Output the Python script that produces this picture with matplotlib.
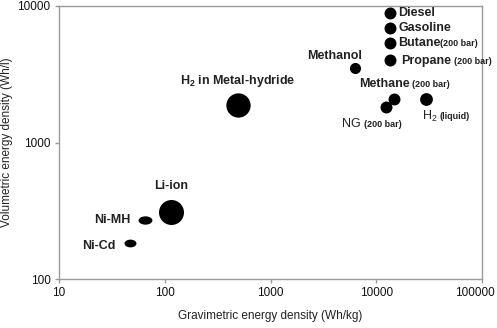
import numpy as np
import matplotlib
matplotlib.use('Agg')
import matplotlib.pyplot as plt
from matplotlib.path import Path
from matplotlib.transforms import ScaledTranslation

plt.rcParams['font.family'] = ['Liberation Sans', 'DejaVu Sans']
plt.rcParams['mathtext.fontset'] = 'custom'
plt.rcParams['mathtext.rm'] = 'Liberation Sans'
plt.rcParams['mathtext.bf'] = 'Liberation Sans:bold'

# Data
names = ["Diesel", "Gasoline", "Butane", "Propane", "Methanol", "Methane",
         "NG", "H2 (liquid)", "H2 in Metal-hydride", "Li-ion", "Ni-MH", "Ni-Cd"]
gravimetric = [13500, 13500, 13500, 13500, 6300, 14700,
               12400, 29500, 490, 115, 65, 47]          # Wh/kg
volumetric = [8900, 6900, 5360, 4020, 3510, 2080,
              1820, 2080, 1880, 310, 270, 184]          # Wh/l

x_ticks = [10, 100, 1000, 10000, 100000]
y_ticks = [100, 1000, 10000]

# marker diameter (pt) and vertical squash of each marker
marker_d = [8.6, 8.6, 8.6, 8.6, 8.0, 8.6, 8.6, 9.2, 17.5, 18.0, 10.0, 8.6]
squash = [1, 1, 1, 1, 1, 1, 1, 1, 1, 1, 0.6, 0.65]

# label text, offset (px), alignment, weight
labels = [
    ("Diesel", (8, 0), "left", "bold"),
    ("Gasoline", (8, 0), "left", "bold"),
    ("Butane", (8, 0), "left", "bold"),
    ("Propane", (11, -1), "left", "bold"),
    ("Methanol", (-20, 12), "center", "bold"),
    ("Methane", (-35, 15), "left", "bold"),
    ("NG", (-44, -17), "left", "normal"),
    ("H$_\\mathrm{2}$", (-4, -17), "left", "normal"),
    ("H$_\\mathbf{2}$ in Metal-hydride", (0, 24), "center", "bold"),
    ("Li-ion", (0, 26), "center", "bold"),
    ("Ni-MH", (-14, 0), "right", "bold"),
    ("Ni-Cd", (-15, -3), "right", "bold"),
]
# small suffix texts: (index of point, text, offset px)
suffixes = [
    (2, "(200 bar)", (50, -1)),
    (3, "(200 bar)", (64, -1)),
    (5, "(200 bar)", (18, 15)),
    (6, "(200 bar)", (-22, -17)),
    (7, "(liquid)", (14, -17)),
]

fig = plt.figure(figsize=(4.97, 3.28), dpi=100)
ax = fig.add_axes([59 / 497, 1 - 279 / 328, 423 / 497, 273 / 328])

circle = Path.unit_circle()
for i in range(len(names)):
    verts = circle.vertices * np.array([1.0, squash[i]])
    mk = Path(verts, circle.codes)
    ax.scatter(gravimetric[i], volumetric[i], s=marker_d[i] ** 2,
               marker=mk, color="black", linewidths=0, zorder=3)

for i, (txt, off, ha, wt) in enumerate(labels):
    ax.annotate(txt, xy=(gravimetric[i], volumetric[i]), xytext=off,
                textcoords="offset pixels", ha=ha, va="center",
                fontsize=9, fontweight=wt, color="#222222")

for i, txt, off in suffixes:
    ax.annotate(txt, xy=(gravimetric[i], volumetric[i]), xytext=off,
                textcoords="offset pixels", ha="left", va="center",
                fontsize=6.5, fontweight="bold", color="#222222")

ax.set_xscale("log")
ax.set_yscale("log")
ax.set_xlim(10, 100000)
ax.set_ylim(100, 10000)
ax.set_xticks(x_ticks)
ax.set_xticklabels([str(v) for v in x_ticks])
ax.set_yticks(y_ticks)
ax.set_yticklabels([str(v) for v in y_ticks])
ax.minorticks_off()

for side in ax.spines.values():
    side.set_color("#9a9a9a")
    side.set_linewidth(1.0)
ax.tick_params(axis="both", colors="#9a9a9a", labelcolor="#111111",
               labelsize=8.5, length=3, width=1, pad=3)

# last x tick label sits a bit left so it stays inside the picture
last = ax.get_xticklabels()[-1]
last.set_transform(last.get_transform() + ScaledTranslation(-7 / 100, 0, fig.dpi_scale_trans))

ax.set_xlabel("Gravimetric energy density (Wh/kg)", fontsize=8.5,
              color="#222222", labelpad=8)
ax.set_ylabel("Volumetric energy density (Wh/l)", fontsize=8.5,
              color="#222222", labelpad=3)

fig.savefig("out.png", dpi=100)
